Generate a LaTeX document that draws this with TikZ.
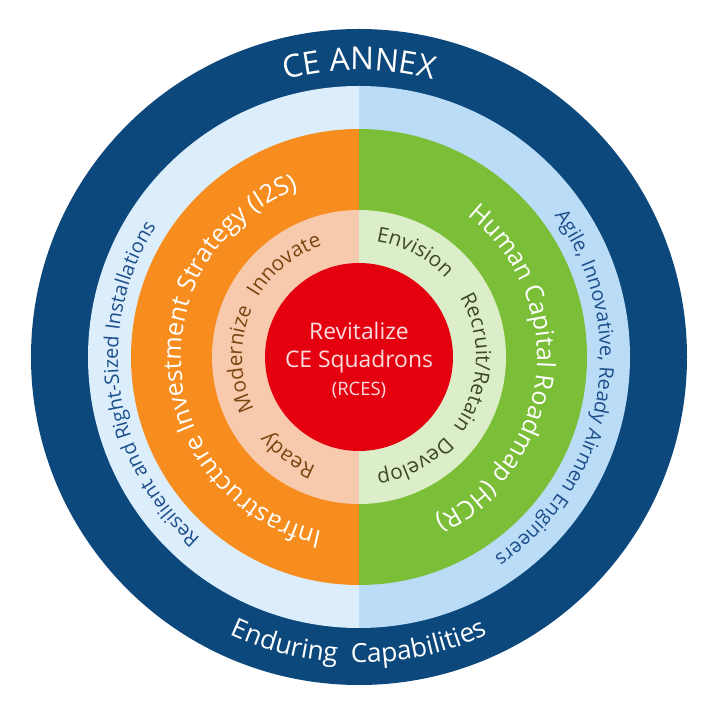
\documentclass[tikz,border=0pt]{standalone}
\usepackage{fontspec}
\setmainfont{Open Sans}
\usetikzlibrary{decorations.text}
\definecolor{navy}{HTML}{0C487C}
\definecolor{skyL}{HTML}{DCEDFB}
\definecolor{skyR}{HTML}{BADCF7}
\definecolor{amber}{HTML}{F78D1E}
\definecolor{leaf}{HTML}{7BBE37}
\definecolor{peach}{HTML}{F8CAAD}
\definecolor{mint}{HTML}{DCEEC9}
\definecolor{hot}{HTML}{E4000F}
\definecolor{bark}{HTML}{7A4511}
\definecolor{moss}{HTML}{3C4A20}
\definecolor{ink}{HTML}{1D4F8B}
\definecolor{blush}{HTML}{FBDDE0}
\newcommand\bandfont{\fontsize{18}{18}\selectfont}
\newcommand\capfont{\fontsize{15}{15}\selectfont}
\newcommand\skyfont{\fontsize{11.3}{11.3}\selectfont}
\newcommand\halffont{\fontsize{14.3}{14.3}\selectfont}
\newcommand\wordfont{\fontsize{11.8}{11.8}\selectfont}

\begin{document}
\begin{tikzpicture}[
 ringtext/.style={decorate,decoration={text along path,text align=center,text={#1}}}]
\useasboundingbox[fill=white] (0,0) rectangle (14.34,14.34);
\coordinate (c) at (7.18,7.20);
\fill[navy] (c) circle[radius=6.56];
\fill[skyL] (c) ++(90:5.42) arc[start angle=90,end angle=270,radius=5.42] -- cycle;
\fill[skyR] (c) ++(-90:5.42) arc[start angle=-90,end angle=90,radius=5.42] -- cycle;
\fill[amber] (c) ++(90:4.56) arc[start angle=90,end angle=270,radius=4.56] -- cycle;
\fill[leaf] (c) ++(-90:4.56) arc[start angle=-90,end angle=90,radius=4.56] -- cycle;
\fill[peach] (c) ++(90:2.94) arc[start angle=90,end angle=270,radius=2.94] -- cycle;
\fill[mint] (c) ++(-90:2.94) arc[start angle=-90,end angle=90,radius=2.94] -- cycle;
\fill[hot] (c) circle[radius=1.88];

\path[ringtext={|\bandfont\color{white}|CE ANNEX}] (c) ++(130:5.74) arc[start angle=130,end angle=50,radius=5.74];
\path[ringtext={|\capfont\color{white}|Enduring {\kern4pt}Capabilities}] (c) ++(230:6.12) arc[start angle=230,end angle=310,radius=6.12];
\path[ringtext={|\skyfont\color{ink}|Resilient and Right-Sized Installations}] (c) ++(268:4.82) arc[start angle=268,end angle=108,radius=4.82];
\path[ringtext={|\skyfont\color{ink}|Agile, Innovative, Ready Airmen Engineers}] (c) ++(70:4.82) arc[start angle=70,end angle=-90,radius=4.82];
\path[ringtext={|\halffont\color{white}|Infrastructure Investment Strategy (I2S)}] (c) ++(269:3.56) arc[start angle=269,end angle=99,radius=3.56];
\path[ringtext={|\halffont\color{white}|Human Capital Roadmap (HCR)}] (c) ++(79:3.56) arc[start angle=79,end angle=-91,radius=3.56];

\path[ringtext={|\wordfont\color{bark}|Innovate}] (c) ++(169:2.34) arc[start angle=169,end angle=89,radius=2.34];
\path[ringtext={|\wordfont\color{bark}|Modernize}] (c) ++(221:2.34) arc[start angle=221,end angle=141,radius=2.34];
\path[ringtext={|\wordfont\color{bark}|Ready}] (c) ++(274:2.34) arc[start angle=274,end angle=194,radius=2.34];
\path[ringtext={|\wordfont\color{moss}|Envision}] (c) ++(102:2.34) arc[start angle=102,end angle=22,radius=2.34];
\path[ringtext={|\wordfont\color{moss}|Recruit/Retain}] (c) ++(37:2.34) arc[start angle=37,end angle=-43,radius=2.34];
\path[ringtext={|\wordfont\color{moss}|Develop}] (c) ++(338:2.34) arc[start angle=338,end angle=258,radius=2.34];

\node[align=center,text=blush,font=\fontsize{13}{16}\selectfont] (hub) at ([yshift=-0.07cm]c)
 {Revitalize\\CE Squadrons\\{\fontsize{10.5}{14}\selectfont (RCES)}};
\end{tikzpicture}
\end{document}
